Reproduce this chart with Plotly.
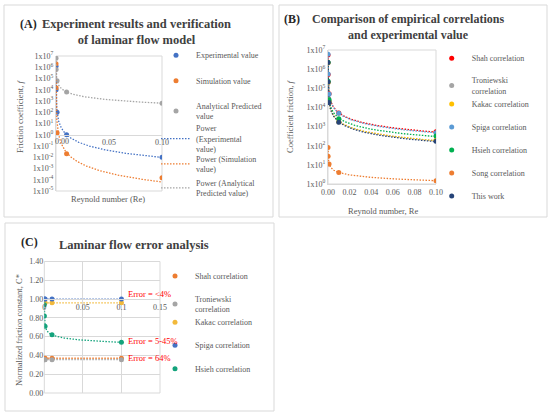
import numpy as np
import plotly.graph_objects as go

W, H = 550, 417
SERIF = 'Liberation Serif'
GRID = '#D9D9D9'
TXT = '#595959'
DOT = '1.5px,1.5px'

# Reynolds numbers shared by all three panels
re = [0.00001, 0.0001, 0.001, 0.01, 0.1]

# (A) experiment / simulation / analytical friction coefficient
exp_f = [1.2e6, 1.0e4, 1.0e2, 1.0, 1.0e-2]
sim_f = [2.0e6, 1.5e4, 1.5, 2.0e-2, 1.5e-4]
ana_f = [6.4e6, 6.4e5, 6.4e4, 6.4e3, 6.4e2]

# (B) empirical correlations vs this work
shah_b = [5.5e6, 5.3e5, 5.2e4, 5.1e3, 5.3e2]
tron_b = [2.1e6, 2.0e5, 1.9e4, 1.75e3, 1.9e2]
kakac_b = [2.15e6, 2.05e5, 1.95e4, 1.8e3, 1.95e2]
spiga_b = [6.0e6, 5.5e5, 5.0e4, 5.0e3, 4.8e2]
hsieh_b = [2.3e6, 2.3e5, 2.5e4, 2.6e3, 3.2e2]
song_b = [80, 28, 11, 4, 1.5]
this_b = [2.2e6, 2.1e5, 1.8e4, 1.7e3, 1.7e2]

# (C) normalized friction constant
shah_c = [0.37, 0.37, 0.37, 0.37, 0.37]
tron_c = [0.355, 0.355, 0.355, 0.355, 0.355]
kakac_c = [0.96, 0.96, 0.96, 0.96, 0.96]
spiga_c = [1.00, 1.00, 1.00, 1.00, 1.00]
hsieh_c = [0.94, 0.82, 0.71, 0.62, 0.54]

a_exp = list(range(-5, 8))
b_exp = list(range(0, 8))


def px(x):
    return x / W


def py(y):
    return 1 - y / H


def power_fit(x, y):
    # same as an Excel "Power" trendline: straight line in log-log
    b, log_a = np.polyfit(np.log10(x), np.log10(y), 1)
    xs = np.unique(np.concatenate([np.geomspace(min(x), max(x), 200),
                                   np.linspace(min(x), max(x), 200)]))
    return xs, 10 ** log_a * xs ** b


fig = go.Figure()
legends = {}
n_leg = [0]


def new_legend(x_text, y_center):
    # one small legend per entry so each can sit where the reference has it
    n_leg[0] += 1
    key = 'legend' if n_leg[0] == 1 else 'legend%d' % n_leg[0]
    legends[key] = dict(
        x=px(x_text - 40), y=py(y_center), xanchor='left', yanchor='middle',
        bgcolor='rgba(0,0,0,0)', borderwidth=0, itemwidth=30,
        font=dict(family=SERIF, size=8, color=TXT),
    )
    return key


def add_trend(x, y, color, xa, ya, name=None, leg=None):
    xs, ys = power_fit(x, y)
    fig.add_trace(go.Scatter(
        x=xs, y=ys, mode='lines', xaxis=xa, yaxis=ya,
        line=dict(color=color, width=1.3, dash=DOT),
        name=name, showlegend=leg is not None, legend=leg, hoverinfo='skip'
    ))


def add_points(x, y, color, xa, ya, name, leg):
    fig.add_trace(go.Scatter(
        x=x, y=y, mode='markers', xaxis=xa, yaxis=ya,
        marker=dict(color=color, size=5),
        name=name, legend=leg
    ))


# ---- panel A
a_series = [
    (exp_f, '#4472C4', 'Experimental value', 55.3,
     'Power<br>(Experimental<br>value)', 139),
    (sim_f, '#ED7D31', 'Simulation value', 80.7,
     'Power (Simulation<br>value)', 164),
    (ana_f, '#A5A5A5', 'Analytical Predicted<br>value', 111,
     'Power (Analytical<br>Predicted value)', 188),
]
for ys, col, name, yc, tname, tyc in a_series:
    add_points(re, ys, col, 'x', 'y', name, new_legend(196, yc))
for ys, col, name, yc, tname, tyc in a_series:
    add_trend(re, ys, col, 'x', 'y', tname, new_legend(196, tyc))
# empty trace so the extra "0.00" label axis gets drawn
fig.add_trace(go.Scatter(x=[], y=[], xaxis='x4', yaxis='y', showlegend=False))

# ---- panel B
b_series = [
    (shah_b, '#FF0000', 'Shah correlation', 58.3),
    (tron_b, '#A5A5A5', 'Troniewski<br>correlation', 85.5),
    (kakac_b, '#FFC000', 'Kakac correlation', 104),
    (spiga_b, '#5B9BD5', 'Spiga correlation', 127),
    (hsieh_b, '#00B050', 'Hsieh correlation', 150),
    (song_b, '#ED7D31', 'Song correlation', 173),
    (this_b, '#264478', 'This work', 196),
]
for ys, col, name, yc in b_series:
    add_trend(re, ys, col, 'x2', 'y2')
for ys, col, name, yc in b_series:
    add_points(re, ys, col, 'x2', 'y2', name, new_legend(471.7, yc))

# ---- panel C
c_series = [
    (shah_c, '#ED7D31', 'Shah correlation', 276),
    (tron_c, '#A5A5A5', 'Troniewski<br>correlation', 304),
    (kakac_c, '#F2B93B', 'Kakac correlation', 322.3),
    (spiga_c, '#4472C4', 'Spiga correlation', 345.3),
    (hsieh_c, '#13A37C', 'Hsieh correlation', 368.7),
]
for ys, col, name, yc in c_series:
    add_trend(re, ys, col, 'x3', 'y3')
for ys, col, name, yc in c_series:
    add_points(re, ys, col, 'x3', 'y3', name, new_legend(195, yc))

tickfont = dict(family=SERIF, size=8, color=TXT)
a_cross = py(56 + 7 / 12 * 135)  # where 1x10^0 sits: the x axis crosses there
fig.update_layout(
    width=W, height=H,
    margin=dict(l=0, r=0, t=0, b=0, autoexpand=False),
    paper_bgcolor='white', plot_bgcolor='white',
    xaxis=dict(domain=[px(56), px(162)], range=[0, 0.1], anchor='free',
               position=a_cross, tickvals=[0.05, 0.1], ticktext=['0.05', '0.10'],
               showgrid=False, zeroline=False, showline=True, linecolor=GRID,
               tickfont=tickfont),
    xaxis4=dict(overlaying='x', domain=[px(56), px(162)], range=[0, 0.1],
                anchor='free', position=a_cross, tickvals=[0], ticktext=['0.00'],
                ticklabelshift=6, showgrid=False, zeroline=False, showline=False,
                tickfont=tickfont),
    yaxis=dict(domain=[py(191), py(56)], type='log', range=[-5, 7], anchor='x',
               tickvals=[10.0 ** k for k in a_exp],
               ticktext=['1x10<sup>%d</sup>' % k for k in a_exp],
               showgrid=False, zeroline=False, showline=True, linecolor=GRID,
               tickfont=tickfont),
    xaxis2=dict(domain=[px(328), px(436)], range=[0, 0.1], anchor='y2',
                dtick=0.02, tickformat='.2f', showgrid=False, zeroline=False,
                showline=True, linecolor=GRID, tickfont=tickfont),
    yaxis2=dict(domain=[py(184), py(50)], type='log', range=[0, 7], anchor='x2',
                tickvals=[10.0 ** k for k in b_exp],
                ticktext=['1x10<sup>%d</sup>' % k for k in b_exp],
                showgrid=False, zeroline=False, showline=True, linecolor=GRID,
                tickfont=tickfont),
    xaxis3=dict(domain=[px(44.3), px(160)], range=[0, 0.15], anchor='free',
                position=py(393 - 1.0 / 1.4 * 131.5),
                tickvals=[0, 0.05, 0.1, 0.15], ticktext=['0', '0.05', '0.1', '0.15'],
                showgrid=True, gridcolor=GRID, zeroline=False, showline=True,
                linecolor=GRID, tickfont=tickfont),
    yaxis3=dict(domain=[py(393), py(261.5)], range=[0, 1.4], anchor='x3',
                dtick=0.2, tickformat='.2f', showgrid=True, gridcolor=GRID,
                zeroline=False, showline=False, tickfont=tickfont),
    **legends,
)

# plot-area borders and panel frames
for xr, yr in [('x domain', 'y domain'), ('x2 domain', 'y2 domain'), ('x3 domain', 'y3 domain')]:
    fig.add_shape(type='rect', xref=xr, yref=yr, x0=0, x1=1, y0=0, y1=1,
                  line=dict(color=GRID, width=1), layer='below')
for x0, y0, x1, y1 in [(4, 5, 273, 217), (279, 5, 547, 217), (5, 223, 274, 411)]:
    fig.add_shape(type='rect', xref='paper', yref='paper',
                  x0=px(x0), x1=px(x1), y0=py(y1), y1=py(y0),
                  line=dict(color=GRID, width=1))


def note(text, x, y, size=8.5, color=TXT, angle=0, xanchor='center'):
    fig.add_annotation(text=text, x=px(x), y=py(y), xref='paper', yref='paper',
                       showarrow=False, textangle=angle, xanchor=xanchor,
                       yanchor='middle', font=dict(family=SERIF, size=size, color=color))


# titles
note('<b>(A)</b>', 18, 24.3, size=12, color='#262626', xanchor='left')
note('<b>Experiment results and verification<br>of laminar flow model</b>',
     136.5, 32.5, size=12.5, color='#404040')
note('<b>(B)</b>', 282, 19, size=12, color='#262626', xanchor='left')
note('<b>Comparison of empirical correlations<br>and experimental value</b>',
     408, 26.7, size=12, color='#404040')
note('<b>(C)</b>', 19, 241.7, size=12, color='#262626', xanchor='left')
note('<b>Laminar flow error analysis</b>', 133.5, 245, size=12.5, color='#404040')

# axis titles
note('Friction coefficient, <i>f</i>', 20, 117, angle=-90)
note('Reynold number (Re)', 108, 199)
note('Coefficient friction, <i>f</i>', 290, 117, angle=-90)
note('Reynold number, Re', 383, 211)
note('Normalized friction constant, C*', 19, 330, angle=-90)

# error labels in (C)
for txt, yv in [('Error = &lt;4%', 1.054), ('Error = 5-45%', 0.554), ('Error = 64%', 0.376)]:
    fig.add_annotation(text=txt, x=0.106, y=yv, xref='x3', yref='y3', showarrow=False,
                       xanchor='left', yanchor='middle',
                       font=dict(family=SERIF, size=8.5, color='#FF0000'))

# the page's default 8px body margin would push the whole figure off its frame
fig.write_html('out.html', config={'displayModeBar': False},
               post_script="document.body.style.margin='0';")
